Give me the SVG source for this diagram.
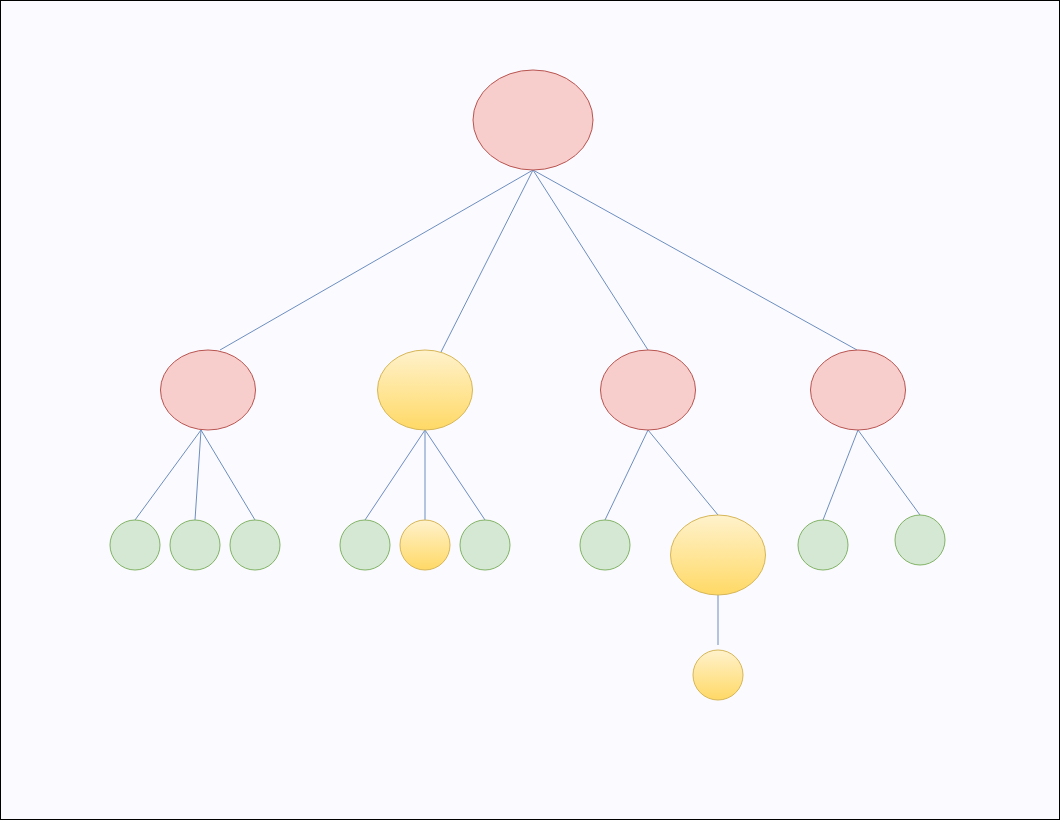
<svg xmlns="http://www.w3.org/2000/svg" width="1061" height="829" viewBox="0 0 1061 829">
<defs>
<linearGradient id="yg" x1="0" y1="0" x2="0" y2="1"><stop offset="0" stop-color="#fff2cc"/><stop offset="1" stop-color="#ffd966"/></linearGradient>
<style>
.r{fill:#f8cecc;stroke:#b85450;stroke-width:1}
.g{fill:#d5e8d4;stroke:#82b366;stroke-width:1}
.y{fill:url(#yg);stroke:#d6b656;stroke-width:1}
.e{stroke:#6c8ebf;stroke-width:1;fill:none}
</style>
</defs>
<rect x="0.5" y="0.5" width="1059" height="819" fill="#fbfaff" stroke="#000"/>
<g id="connectors">
<path class="e" d="M533 170L220 350M533 170L441 352M533 170L648 350M533 170L857 350"/>
<path class="e" d="M201 430L135 520M201 430L195 520M201 430L255 520"/>
<path class="e" d="M425 430L365 520M425 430L425 520M425 430L485 520"/>
<path class="e" d="M648 430L605 520M648 430L718 515"/>
<path class="e" d="M858 430L823 520M858 430L920 515"/>
<path class="e" d="M718 595L718 645"/>
</g>
<g id="root"><ellipse class="r" cx="533" cy="120" rx="60" ry="50"/></g>
<g id="n1"><ellipse class="r" cx="208" cy="390" rx="47.5" ry="40"/></g>
<g id="n2"><ellipse class="y" cx="425" cy="390" rx="47.5" ry="40"/></g>
<g id="n3"><ellipse class="r" cx="648" cy="390" rx="47.5" ry="40"/></g>
<g id="n4"><ellipse class="r" cx="858" cy="390" rx="47.5" ry="40"/></g>
<g id="l1"><circle class="g" cx="135" cy="545" r="25"/></g>
<g id="l2"><circle class="g" cx="195" cy="545" r="25"/></g>
<g id="l3"><circle class="g" cx="255" cy="545" r="25"/></g>
<g id="l4"><circle class="g" cx="365" cy="545" r="25"/></g>
<g id="l5"><circle class="y" cx="425" cy="545" r="25"/></g>
<g id="l6"><circle class="g" cx="485" cy="545" r="25"/></g>
<g id="l7"><circle class="g" cx="605" cy="545" r="25"/></g>
<g id="l8"><ellipse class="y" cx="718" cy="555" rx="47.5" ry="40"/></g>
<g id="l9"><circle class="g" cx="823" cy="545" r="25"/></g>
<g id="l10"><circle class="g" cx="920" cy="540" r="25"/></g>
<g id="l11"><circle class="y" cx="718" cy="675" r="25"/></g>
</svg>
